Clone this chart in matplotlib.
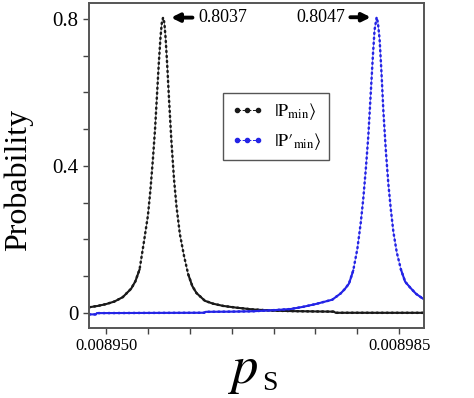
import numpy as np
import matplotlib
matplotlib.use("Agg")
import matplotlib.pyplot as plt
from matplotlib.lines import Line2D

plt.rcParams['font.family'] = ['Liberation Serif', 'DejaVu Serif']
plt.rcParams['mathtext.fontset'] = 'stix'

# p_S values are stored as offsets from 0.008950 in units of 1e-9
ps_base = 0.008950
ps_unit = 1e-9

off_black = [-2.0, -1.0, 0.0, 1.0, 2.0, 3.0, 3.5, 4.0, 4.5, 5.0, 5.3, 5.6, 5.85,
             6.1, 6.3, 6.5, 6.66, 6.81, 6.96, 7.11, 7.31, 7.51, 7.81, 8.11, 8.41,
             8.81, 9.31, 9.81, 10.3, 10.8, 11.8, 12.8, 14.0, 15.5, 17.5, 20.0,
             22.5, 25.0, 27.2, 27.4, 30.0, 33.0, 36.0, 38.0]
prob_black = [0.0155, 0.019, 0.024, 0.031, 0.043, 0.066, 0.086, 0.118, 0.19, 0.265,
              0.335, 0.42, 0.50, 0.60, 0.68, 0.75, 0.79, 0.8037, 0.79, 0.748, 0.672,
              0.585, 0.465, 0.365, 0.29, 0.215, 0.155, 0.105, 0.073, 0.054, 0.033,
              0.025, 0.019, 0.0145, 0.0095, 0.0062, 0.0048, 0.0040, 0.0035, 0.0004,
              0.0004, 0.0003, 0.0003, 0.0003]

off_blue = [-2.0, -1.2, -1.1, 5.0, 11.7, 11.9, 15.0, 17.5, 20.0, 22.0, 23.5, 25.0,
            26.0, 27.0, 28.0, 28.5, 29.0, 29.5, 30.0, 30.4, 30.7, 31.0, 31.3, 31.6,
            31.85, 32.05, 32.3, 32.45, 32.65, 32.85, 33.1, 33.4, 33.7, 34.0, 34.3,
            34.7, 35.2, 35.7, 36.3, 37.0, 38.0]
prob_blue = [-0.004, -0.004, -0.0005, 0.0, 0.0005, 0.003, 0.0035, 0.0045, 0.0075,
             0.0105, 0.0165, 0.024, 0.030, 0.036, 0.053, 0.065, 0.080, 0.115, 0.175,
             0.245, 0.31, 0.39, 0.48, 0.60, 0.70, 0.77, 0.8047, 0.79, 0.745, 0.665,
             0.55, 0.44, 0.35, 0.28, 0.22, 0.165, 0.118, 0.085, 0.069, 0.052, 0.036]

peak_black = (6.81, 0.8037)
peak_blue = (32.3, 0.8047)

xtick_offsets = [0, 5, 10, 15, 20, 25, 30, 35]
xtick_labels = ['0.008950', '', '', '', '', '', '', '0.008985']

x_black = ps_base + np.array(off_black) * ps_unit
x_blue = ps_base + np.array(off_blue) * ps_unit

fig = plt.figure(figsize=(4.74, 3.98), dpi=100)
ax = fig.add_axes([0.1878, 0.1759, 0.7067, 0.8166])

for xs, ys, c in [(x_black, prob_black, '#1a1a1a'), (x_blue, prob_blue, '#2424e6')]:
    ys = np.array(ys)
    ax.plot(xs, ys, color=c, lw=0.7, alpha=0.55)
    ax.plot(xs, ys, color=c, lw=1.8, linestyle=(0, (0.4, 1.6)), dash_capstyle='round')
    # the dense tails look like a solid line
    ax.plot(xs, np.where(ys <= 0.125, ys, np.nan), color=c, lw=1.5)

ax.set_xlim(ps_base - 2.03 * ps_unit, ps_base + 37.95 * ps_unit)
ax.set_ylim(-0.041, 0.8435)

ax.set_xticks([ps_base + t * ps_unit for t in xtick_offsets])
ax.set_xticklabels(xtick_labels, fontsize=12)
ax.set_yticks([0, 0.4, 0.8])
ax.set_yticklabels(['0', '0.4', '0.8'], fontsize=15)
ax.set_yticks(np.arange(0, 0.81, 0.1), minor=True)
ax.tick_params(axis='both', which='both', direction='out', length=4.5, width=1.0,
               color='#444444', pad=3)
for sp in ax.spines.values():
    sp.set_color('#555555')
    sp.set_linewidth(1.4)

ax.set_ylabel('Probability', fontsize=23)
ax.yaxis.set_label_coords(-0.167, 0.455)
# x label: italic p with a small upright subscript S
ax.text(0.46, -0.168, r'$p$', fontsize=38, ha='center', va='baseline',
        transform=ax.transAxes, clip_on=False)
ax.text(0.516, -0.19, 'S', fontsize=20, ha='left', va='baseline',
        transform=ax.transAxes, clip_on=False)

arrow = dict(arrowstyle='-|>', lw=2.8, color='black', mutation_scale=12,
             shrinkA=2, shrinkB=0)
ax.annotate('0.8037', xy=(ps_base + (peak_black[0] + 0.95) * ps_unit, peak_black[1]),
            xytext=(ps_base + 10.98 * ps_unit, peak_black[1]), fontsize=13,
            ha='left', va='center', arrowprops=arrow)
ax.annotate('0.8047', xy=(ps_base + (peak_blue[0] - 0.7) * ps_unit, peak_blue[1]),
            xytext=(ps_base + 28.5 * ps_unit, peak_blue[1]), fontsize=13,
            ha='right', va='center', arrowprops=arrow)

handles = [
    Line2D([], [], color='#1a1a1a', lw=0.7, ls='--', marker='o', ms=3),
    Line2D([], [], color='#2424e6', lw=0.7, ls='--', marker='o', ms=3),
]
labels = [r'$|\mathrm{P}_{\mathrm{min}}\rangle$',
          '$|\\mathrm{P\u2032}_{\\mathrm{min}}\\rangle$']
leg = ax.legend(handles, labels, loc='upper left', bbox_to_anchor=(0.40, 0.723),
                borderaxespad=0, fontsize=13, numpoints=3, handlelength=1.8,
                handletextpad=0.55, borderpad=0.45, labelspacing=0.5,
                fancybox=False, framealpha=1, edgecolor='#555555')
leg.get_frame().set_linewidth(1.0)

fig.savefig('out.png', dpi=100)
